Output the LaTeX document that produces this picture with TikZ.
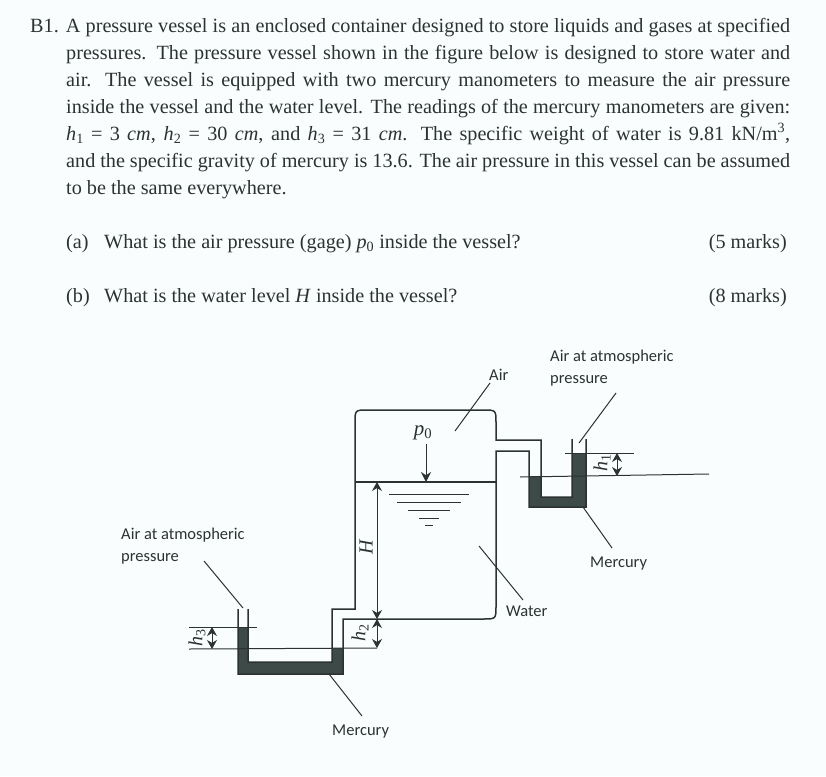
\documentclass[tikz,border=0pt]{standalone}
\usepackage{amsmath}
\usepackage{fontspec}
\setmainfont{Liberation Serif}
\newfontfamily\labelfont{Carlito}
\definecolor{paper}{HTML}{FAFDFD}
\definecolor{ink}{HTML}{2C3232}
\definecolor{mercury}{HTML}{3E4A48}
\usetikzlibrary{arrows.meta}
\newcommand{\hsub}[1]{\textit{h}\textsubscript{#1}}
\tikzset{
  bodytext/.style={anchor=base west,inner sep=0pt,font=\fontsize{20.2}{27}\selectfont,text=ink},
  figlabel/.style={anchor=base west,inner sep=0pt,font=\labelfont\fontsize{16.5}{21.5}\selectfont,text=ink},
  wall/.style={line width=1.5pt,ink},
  thin wall/.style={line width=1pt,ink},
  leader/.style={line width=1pt,ink},
  dim/.style={line width=1pt,ink,{Stealth[length=9pt,width=10pt]}-{Stealth[length=9pt,width=10pt]}},
  rotlabel/.style={rotate=90,inner sep=0pt,font=\fontsize{20}{20}\selectfont,text=ink}
}
\begin{document}
\begin{tikzpicture}[x=1pt,y=-1pt]
\useasboundingbox[fill=paper] (0,0) rectangle (826,776);
\node[bodytext,anchor=north west] (question) at (30,18) {\parbox[t]{760pt}{\hangindent=36pt\hangafter=1
B1. A pressure vessel is an enclosed container designed to store liquids and gases at specified\linebreak
pressures. The pressure vessel shown in the figure below is designed to store water and\linebreak
air. The vessel is equipped with two mercury manometers to measure the air pressure\linebreak
inside the vessel and the water level. The readings of the mercury manometers are given:\linebreak
\hsub{1} = 3 \textit{cm}, \hsub{2} = 30 \textit{cm}, and \hsub{3} = 31 \textit{cm}. The specific weight of water is 9.81 kN/m\textsuperscript{3},\linebreak
and the specific gravity of mercury is 13.6. The air pressure in this vessel can be assumed\linebreak
to be the same everywhere.}};
\node[bodytext] (parta) at (66,248) {(a)};
\node[bodytext] (parttexta) at (104,248) {What is the air pressure (gage) \textit{p}\textsubscript{0} inside the vessel?};
\node[bodytext,anchor=base east] (marksa) at (787,248) {(5 marks)};
\node[bodytext] (partb) at (66,302) {(b)};
\node[bodytext] (parttextb) at (104,302) {What is the water level \textit{H} inside the vessel?};
\node[bodytext,anchor=base east] (marksb) at (787,302) {(8 marks)};
% mercury
\fill[mercury] (529,476) -- (541,476) -- (541,497) -- (572,497) -- (572,453) -- (586,453) -- (586,507) -- (529,507) -- cycle;
\fill[mercury] (238,627) -- (248,627) -- (248,662) -- (332,662) -- (332,648) -- (343,648) -- (343,674) -- (238,674) -- cycle;
% vessel and tubes
\draw[wall] (572,439) -- (572,497) -- (541,497) -- (541,440) -- (496,440) -- (496,423) .. controls (496,410) and (496,410) .. (483,410) -- (368,410) .. controls (355,410) and (355,410) .. (355,423) -- (355,609) -- (332,609) -- (332,662) -- (248,662) -- (248,609);
\draw[wall] (586,439) -- (586,507) -- (529,507) -- (529,451) -- (496,451) -- (496,606) .. controls (496,619) and (496,619) .. (483,619) -- (343,619) -- (343,674) -- (238,674) -- (238,609);
\draw[wall] (355,482) -- (496,482);
% water surface
\foreach \yy/\hw in {494/40,502/32,510/21,518/10,525/4}
  \draw[thin wall,line width=.7pt] (429-\hw,\yy) -- (429+\hw,\yy);
% reference lines
\coordinate (hoa) at (565,453);
\coordinate (hob) at (634,453);
\coordinate (hoc) at (520,477);
\coordinate (hod) at (709,474);
\coordinate (hta) at (189,627);
\coordinate (htb) at (257,627);
\coordinate (htc) at (189,649);
\coordinate (htd) at (377,648);
\draw[leader] (hoa) -- (hob);
\draw[leader] (hoc) -- (hod);
\draw[leader] (hta) -- (htb);
\draw[leader] (htc) -- (htd);
% dimensions
\coordinate (poa) at (426,444);
\coordinate (pob) at (426,482);
\coordinate (Ha) at (377,482);
\coordinate (Hb) at (377,619);
\coordinate (hh) at (377,648);
\coordinate (oa) at (617,453);
\coordinate (ob) at (617,476);
\coordinate (ta) at (212,627);
\coordinate (tb) at (212,649);
\draw[leader,-{Stealth[length=10pt,width=10pt]}] (poa) -- (pob);
\draw[dim] (Ha) -- (Hb);
\draw[dim] (Hb) -- (hh);
\draw[dim] (oa) -- (ob);
\draw[dim] (ta) -- (tb);
\node[inner sep=0pt,font=\fontsize{21}{21}\selectfont,text=ink] (pzero) at (423,433) {\textit{p}\textsubscript{0}};
\node[rotlabel] (Hlabel) at (366,547) {\textit{H}};
\node[rotlabel] (hone) at (602,463) {\hsub{1}};
\node[rotlabel] (htwo) at (360,633) {\hsub{2}};
\node[rotlabel] (hthree) at (197,638) {\hsub{3}};
% labels
\node[figlabel] (air) at (489,380) {Air};
\node[figlabel,align=left,anchor=north west] (atmright) at (550,350) {Air at atmospheric\\pressure};
\node[figlabel,align=left,anchor=north west] (atmleft) at (121,528) {Air at atmospheric\\pressure};
\node[figlabel] (hgright) at (590,567) {Mercury};
\node[figlabel] (hgleft) at (332,735) {Mercury};
\node[figlabel] (water) at (506,616) {Water};
% leaders
\coordinate (lairin) at (455,431);
\coordinate (lairout) at (490,383);
\coordinate (latrin) at (579,443);
\coordinate (latrout) at (616,393);
\coordinate (lhgrin) at (583,507);
\coordinate (lhgrout) at (612,548);
\coordinate (lwin) at (479,546);
\coordinate (lwout) at (523,600);
\coordinate (latlin) at (243,608);
\coordinate (latlout) at (204,561);
\coordinate (lhglin) at (329,674);
\coordinate (lhglout) at (362,716);
\draw[leader] (lairin) -- (lairout);
\draw[leader] (latrin) -- (latrout);
\draw[leader] (lhgrin) -- (lhgrout);
\draw[leader] (lwin) -- (lwout);
\draw[leader] (latlin) -- (latlout);
\draw[leader] (lhglin) -- (lhglout);
\end{tikzpicture}
\end{document}
